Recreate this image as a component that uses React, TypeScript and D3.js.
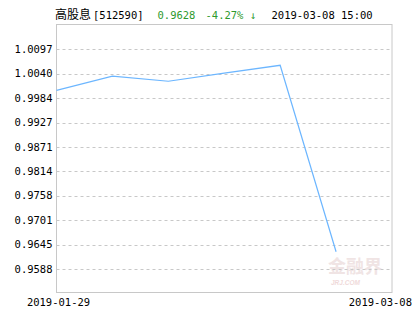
import React from "react";
import * as d3 from "d3";

const title = "高股息[512590]";
const priceText = "0.9628";
const changeText = "-4.27% ↓";
const timeText = "2019-03-08 15:00";

const pointIndex = [0, 1, 2, 3, 4, 5];
const navValues = [1.0002, 1.0035, 1.0023, 1.0042, 1.006, 0.9628];
const yTickLabels = ["0.9588", "0.9645", "0.9701", "0.9758", "0.9814", "0.9871", "0.9927", "0.9984", "1.0040", "1.0097"];
const xEdgeLabels = ["2019-01-29", "2019-03-08"];
const yDomain = [0.95336, 1.01545];
const xSlots = 6;

const W = 415, H = 330;
const L = 56.5, R = 392, T = 24.5, B = 292.5;
const mono = "'DejaVu Sans Mono', 'Liberation Mono', monospace";

export default function App() {
  const x = d3.scaleLinear().domain([0, xSlots]).range([L, R]);
  const y = d3.scaleLinear().domain(yDomain).range([B, T]);
  const line = d3.line<number>().x((_, i) => x(pointIndex[i])).y((d) => y(d));
  const tickStep = (parseFloat(yTickLabels[yTickLabels.length - 1]) - parseFloat(yTickLabels[0])) / (yTickLabels.length - 1);
  const tickVals = yTickLabels.map((_, i) => parseFloat(yTickLabels[0]) + i * tickStep);

  return (
    <svg width={W} height={H} style={{ position: "fixed", left: 0, top: 0, background: "#fff" }}>
      <g fontFamily={mono} fontSize={10.5}>
        <text x={55} y={19} fontFamily="'Noto Sans CJK SC', sans-serif" fontSize={12} fill="#000">
          {title.slice(0, 3)}
          <tspan fontFamily={mono} fontSize={10.5} dx={2}>{title.slice(3)}</tspan>
        </text>
        <text x={157.5} y={19} fill="#2e9a2e">{priceText}</text>
        <text x={205.5} y={19} fill="#2e9a2e">{changeText}</text>
        <text x={271.5} y={19} fill="#000">{timeText}</text>
      </g>

      {/* watermark */}
      <g>
        <text x={328} y={273} fontFamily="'Noto Sans CJK SC', sans-serif" fontWeight="bold" fontSize={18} fill="#f0e4e4">金融界</text>
        <text x={331} y={285} fontFamily="Arial, sans-serif" fontStyle="italic" fontWeight="bold" fontSize={6.5} fill="#f0dada">JRJ.COM</text>
      </g>

      {tickVals.map((v, i) => (
        <g key={i}>
          <line x1={L} x2={R} y1={Math.round(y(v)) + 0.5} y2={Math.round(y(v)) + 0.5} stroke="#c8c8c8" strokeDasharray="3,3" />
          <text x={52.5} y={y(v)} dy="0.35em" textAnchor="end" fontFamily={mono} fontSize={10.5} fill="#000">
            {yTickLabels[i]}
          </text>
        </g>
      ))}

      <rect x={L} y={T} width={R - L} height={B - T} fill="none" stroke="#c8c8c8" />

      <path d={line(navValues) || ""} fill="none" stroke="#6cb6ff" strokeWidth={1.2} />

      <text x={x(0) + 2} y={306} textAnchor="middle" fontFamily={mono} fontSize={10.5} fill="#000">{xEdgeLabels[0]}</text>
      <text x={x(xSlots) + 20} y={306} textAnchor="end" fontFamily={mono} fontSize={10.5} fill="#000">{xEdgeLabels[1]}</text>
    </svg>
  );
}
